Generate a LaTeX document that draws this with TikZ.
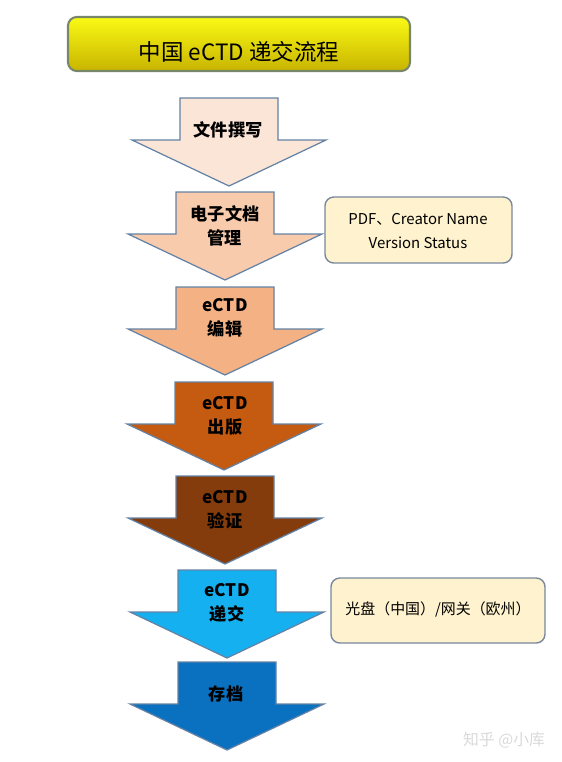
\documentclass[tikz,border=0pt]{standalone}
\usepackage{fontspec}
\setmainfont{Noto Sans CJK SC}
\usetikzlibrary{positioning}
\definecolor{arrA}{RGB}{251,229,214}
\definecolor{arrB}{RGB}{248,203,173}
\definecolor{arrC}{RGB}{244,177,131}
\definecolor{arrD}{RGB}{197,90,17}
\definecolor{arrE}{RGB}{132,60,12}
\definecolor{arrF}{RGB}{20,176,240}
\definecolor{arrG}{RGB}{10,112,192}
\definecolor{arrEdge}{RGB}{100,130,165}
\definecolor{noteFill}{RGB}{255,242,206}
\definecolor{noteEdge}{RGB}{120,135,155}
\definecolor{titleEdge}{RGB}{120,135,105}
\tikzset{every node/.style={font=\fontsize{8.5}{13.6}\selectfont},
  arrowline/.style={draw=arrEdge, line width=0.7pt, line join=miter},
  lbl/.style={font=\fontsize{9.8}{13.6}\selectfont\bfseries, align=center, inner sep=0pt},
  notebox/.style={draw=noteEdge, fill=noteFill, line width=0.8pt, rounded corners=5pt}}

\begin{document}
\begin{tikzpicture}[x=0.02cm,y=-0.02cm]
    \useasboundingbox (0,0) rectangle (562,762);
    % title
    \draw[draw=titleEdge, line width=1.2pt, rounded corners=5pt,
      top color={rgb,255:red,250;green,250;blue,20},
      bottom color={rgb,255:red,200;green,180;blue,0}] (68,17) rectangle (410,71);
    \node[font=\fontsize{12.8}{15}\selectfont] (title) at (239,52) {中国 eCTD 递交流程};
    % down arrows
    \foreach \cx/\ty/\col in {229/98/arrA, 225/192/arrB, 225/287/arrC, 224/382/arrD,
        225/476/arrE, 227/570/arrF, 227/662/arrG}
      \draw[arrowline, fill=\col] (\cx-49,\ty) -- (\cx+49,\ty) -- (\cx+49,\ty+42)
        -- (\cx+97,\ty+42) -- (\cx,\ty+88) -- (\cx-97,\ty+42) -- (\cx-49,\ty+42) -- cycle;
    \node[lbl] (write) at (228,130) {文件撰写};
    \node[lbl] (docmgmt) at (225,226) {电子文档\\管理};
    \node[lbl] (edit) at (225,318) {eCTD\\编辑};
    \node[lbl] (publish) at (225,416) {eCTD\\出版};
    \node[lbl] (validate) at (225,510) {eCTD\\验证};
    \node[lbl] (submit) at (227,603) {eCTD\\递交};
    \node[lbl] (archive) at (226,694) {存档};
    % side notes
    \draw[notebox] (325,197) rectangle (512,263);
    \node[align=center, inner sep=0pt] (meta) at (418,231) {PDF、Creator Name\\Version Status};
    \draw[notebox] (331,578) rectangle (545,643);
    \node[inner sep=0pt] (media) at (438,609) {光盘（中国）/网关（欧州）};
    % watermark
    \node[text=black!15, font=\fontsize{9}{10}\selectfont] (mark) at (504,740) {知乎 @小库};
\end{tikzpicture}
\end{document}
